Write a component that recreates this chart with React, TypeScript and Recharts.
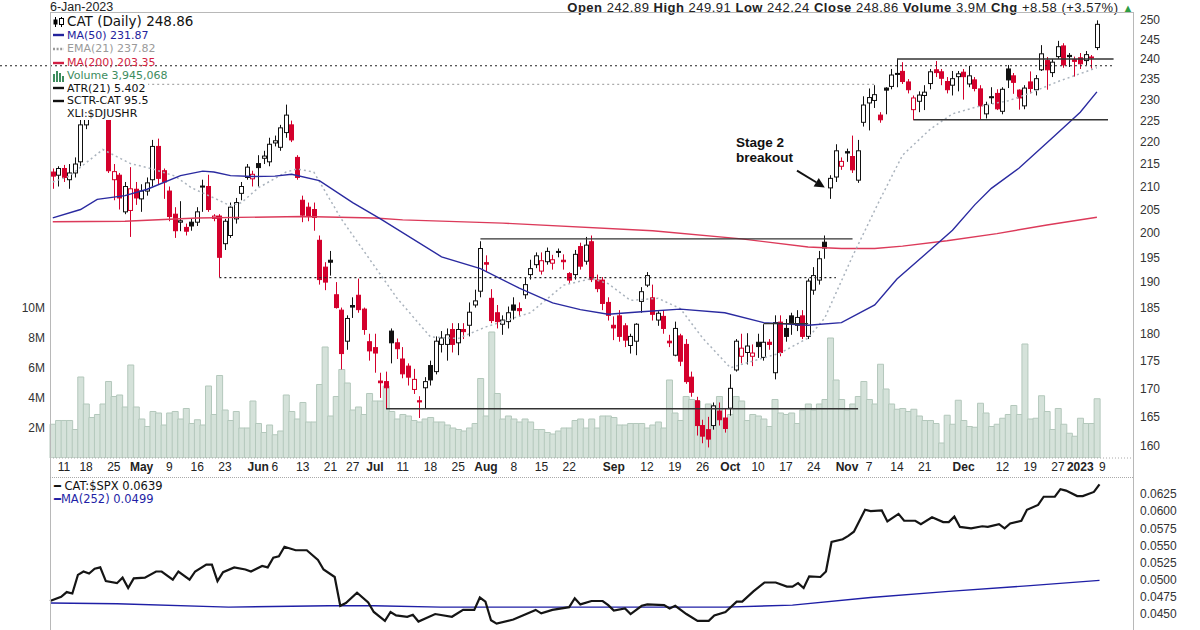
import React from "react";
import { ComposedChart, Bar, Line, XAxis, YAxis, ReferenceLine } from "recharts";

// trading days shown on the chart (Apr 7 2022 .. Jan 6 2023), plus a few empty future slots
const aprDays = [7, 8, 11, 12, 13, 14, 18, 19, 20, 21, 22, 25, 26, 27, 28, 29];
const mayDays = [2, 3, 4, 5, 6, 9, 10, 11, 12, 13, 16, 17, 18, 19, 20, 23, 24, 25, 26, 27, 31];
const junDays = [1, 2, 3, 6, 7, 8, 9, 10, 13, 14, 15, 16, 17, 21, 22, 23, 24, 27, 28, 29, 30];
const julDays = [1, 5, 6, 7, 8, 11, 12, 13, 14, 15, 18, 19, 20, 21, 22, 25, 26, 27, 28, 29];
const augDays = [1, 2, 3, 4, 5, 8, 9, 10, 11, 12, 15, 16, 17, 18, 19, 22, 23, 24, 25, 26, 29, 30, 31];
const sepDays = [1, 2, 6, 7, 8, 9, 12, 13, 14, 15, 16, 19, 20, 21, 22, 23, 26, 27, 28, 29, 30];
const octDays = [3, 4, 5, 6, 7, 10, 11, 12, 13, 14, 17, 18, 19, 20, 21, 24, 25, 26, 27, 28, 31];
const novDays = [1, 2, 3, 4, 7, 8, 9, 10, 11, 14, 15, 16, 17, 18, 21, 22, 23, 25, 28, 29, 30];
const decDays = [1, 2, 5, 6, 7, 8, 9, 12, 13, 14, 15, 16, 19, 20, 21, 22, 23, 27, 28, 29, 30];
const janDays = [3, 4, 5, 6, 9, 10, 11, 12, 13, 17];

const opens = [
  213.2, 212.5, 214, 211.5, 213, 215.5, 224, 227, 231, 230,
  226, 211.5, 212.5, 204.5, 204.8, 209.4, 207.3, 209, 211.5, 219,
  213.5, 209, 204, 202.3, 201.2, 202.3, 202.3, 209.9, 210, 203.1,
  203.6, 197.8, 199.5, 203, 208.5, 212, 211.7, 215.1, 216.3, 215.5,
  219.8, 218.8, 222.2, 224, 216.5, 207, 205.5, 205, 198.5, 193,
  194.4, 187.5, 184.5, 178.6, 185.4, 187.4, 184.7, 178.5, 177.4, 171.3,
  171.2, 180.5, 178.3, 175.3, 174, 169.8, 167.8, 170.1, 174.1, 173,
  178, 178, 180.8, 178.3, 180.8, 181.6, 185.5, 188.2, 193.9, 186.8,
  184, 181.8, 182.3, 185.5, 184.8, 187.5, 191.5, 193.5, 192.2, 194.1,
  193.8, 196.2, 194.4, 191.7, 191.5, 197.2, 194.2, 198.2, 190.4, 190.4,
  186, 181.6, 183.4, 181.5, 177.8, 178.6, 186.2, 189.4, 186.9, 182.6,
  183.3, 178.6, 176, 179.6, 178, 172, 167.8, 163.5, 162.8, 163.5,
  166, 164.8, 166.5, 173.3, 175.8, 176.5, 175.8, 178.4, 175.6, 178.4,
  172.8, 182.2, 181, 183.4, 181.6, 183.4, 179.5, 188.4, 190.4, 198.1,
  209.7, 212.1, 214.5, 217.8, 216.7, 211.4, 224.6, 229.2, 229.8, 226.3,
  232.8, 233.2, 236.4, 236.9, 234.3, 227.6, 229.6, 231, 233.9, 237.3,
  236.8, 234.4, 233.5, 235.6, 236.7, 233.8, 234.8, 232.6, 226.6, 230.7,
  231.5, 227.2, 237.5, 235.8, 232.3, 228.5, 234.3, 232.4, 237.3, 239.6,
  236.6, 240.6, 243.3, 240.9, 239.8, 240.3, 239.6, 240.5, 242.89,
];

const highs = [
  214, 214.5, 214.8, 215, 216.5, 226, 229, 232, 233, 234,
  227, 215, 213, 211, 214.3, 211, 210.5, 212, 220.5, 220.8,
  214, 210, 205.5, 206.8, 202, 203, 205.5, 211.5, 212.6, 204,
  204, 203, 206.5, 207.5, 211, 215, 213.5, 217, 218, 221,
  221.5, 224, 228.8, 225, 217, 208, 206.5, 206.5, 199.5, 194,
  196.3, 190, 185, 183.5, 187, 190.7, 185, 180, 180, 172.8,
  173, 181, 179.1, 177.5, 174.5, 173.5, 168.6, 172, 175, 179.5,
  180.5, 181, 182, 182, 182, 186, 188.5, 198.3, 195.4, 188.6,
  185.5, 183.5, 185.2, 187, 186, 191, 194.5, 196, 196, 197,
  195.5, 196.8, 195.6, 192, 196.5, 198, 199.2, 199.5, 191.5, 191,
  187, 183.3, 184.5, 182, 180, 182, 189, 192, 189.5, 184.3,
  184.5, 179.8, 182.3, 180, 179, 173, 168.5, 164.5, 165, 167.5,
  167.5, 166.5, 172.5, 179, 180, 180.1, 178, 180, 181.8, 179,
  183.5, 183.5, 182.8, 184, 184.5, 184.5, 190.7, 193, 196.3, 199.5,
  212.5, 219.5, 216.5, 218.5, 221.5, 220.5, 230.8, 232.7, 233.5, 227,
  233, 237.5, 240, 239.2, 235, 231, 232, 233.5, 237.5, 239.5,
  237.5, 235.5, 237, 237, 237.5, 238.3, 235.5, 233.5, 229.5, 233,
  232.5, 233, 238.5, 236.5, 232.5, 233.5, 236.9, 236, 243.5, 240.5,
  240, 244.6, 244, 241.5, 240.6, 241.5, 242, 241, 249.91,
];

const lows = [
  209.5, 210, 211, 209.5, 212, 214.5, 223, 226, 227, 226,
  213, 207, 205, 204, 199.2, 206, 204.5, 208, 210, 210.5,
  207.3, 202.5, 199, 200.4, 199.5, 200.5, 201.5, 204.5, 204.5, 202.5,
  191, 196.5, 199, 202, 207, 211.5, 210, 210, 215, 214.5,
  219, 218, 221, 220, 211.5, 202.3, 202.5, 200.5, 189.5, 188.4,
  191.3, 184.8, 173.4, 177, 183, 184, 179.8, 175, 172.8, 168.3,
  166.4, 174.5, 175.3, 171.8, 170.5, 169, 164.8, 166.4, 170.5, 172.5,
  176.5, 175, 176.5, 176, 179, 179.5, 185, 187, 192, 182,
  181, 179.8, 181, 182.7, 183.4, 186.7, 190.5, 192.8, 191.5, 193.5,
  192.5, 195, 192.5, 189.7, 190.5, 192.5, 193.5, 190, 188, 184.5,
  182.5, 178.8, 178.5, 177.5, 176.3, 176, 184, 189, 182.5, 181.5,
  180, 177.5, 175.8, 174, 170.8, 168.5, 161.8, 160.5, 159.8, 162.8,
  163.5, 162.3, 165.2, 173, 174.5, 174.3, 174, 175.5, 175, 177,
  171.6, 175.8, 178.5, 179.8, 180.5, 179, 179, 187.5, 189.5, 194.7,
  207.3, 211, 213.7, 215.5, 213, 210.8, 223.6, 222.7, 228, 224.5,
  226.5, 232.5, 233, 233.8, 231.5, 225.1, 227, 227.5, 232.5, 235.5,
  233.5, 231.5, 231, 232, 230, 233, 232, 225.3, 225.5, 229,
  227.5, 226.5, 232.8, 231.4, 227.6, 227.7, 231.5, 231, 237, 232.4,
  235.5, 240, 237.8, 238, 235.6, 237.5, 238.5, 237.6, 242.24,
];

const closes = [
  212.3, 214, 212, 213, 215, 224, 227, 231, 229.5, 227,
  213.5, 213.3, 207.5, 210, 209.5, 207.5, 209, 210.8, 219, 211.8,
  211, 203.5, 200.5, 202.6, 200.4, 201.5, 204.5, 210.1, 205, 203.6,
  195, 202.5, 205.5, 206.5, 210, 214.3, 212.7, 214.2, 216.8, 219.5,
  220.3, 223.3, 226.3, 220.5, 212, 203.8, 203.5, 203.3, 190.5, 190,
  194, 185, 176.3, 182.9, 185.1, 184.6, 180.8, 176.8, 176.4, 171,
  170.1, 178.3, 177.2, 172.6, 172, 171.6, 167.6, 171.2, 171.5, 178.6,
  179.2, 179.8, 178, 180.8, 180.4, 184.1, 186.3, 196.8, 193.6, 182.5,
  182.3, 182.6, 184, 184.5, 184.4, 189.5, 192.7, 195.3, 194.3, 196.2,
  194.5, 196, 194.1, 190.4, 195.6, 193.2, 197.5, 190.5, 188.7, 185.8,
  183.5, 181.1, 179.5, 178.8, 179.5, 181.8, 188.1, 191.3, 183.7, 183.9,
  181, 178.3, 181, 174.9, 171.2, 169.3, 163.5, 161.7, 161.2, 166.9,
  164.5, 163, 170, 178.6, 177.3, 177.7, 176.4, 177.6, 178.4, 178,
  182.1, 176.5, 179.5, 182.1, 183.1, 179.5, 190.2, 191.3, 194.7, 196.9,
  211.8, 218, 215.6, 217.5, 213.7, 218, 228.7, 230.5, 231.2, 225.2,
  232.3, 236, 236.2, 234.4, 232.4, 230.4, 231.1, 231.8, 236.8, 236.6,
  235.2, 232.4, 235.1, 236.3, 235.6, 235.8, 232.7, 228.5, 228.8, 230.5,
  227.8, 232.5, 234.8, 234.2, 230.4, 232.8, 232.7, 235.1, 241.3, 237.3,
  239.2, 243.1, 238.5, 240.6, 239.4, 238.8, 241.1, 240.28, 248.86,
];

// volume, millions of shares
const volumes = [
  2.25, 2.5, 2.5, 2.5, 1.9, 5.4, 3.6, 2.7, 2.9, 3.6,
  5.1, 4.1, 4.2, 3.4, 6.2, 3.4, 2.6, 2.1, 3.1, 3.0,
  2.2, 3.0, 3.1, 2.6, 3.3, 2.3, 2.55, 2.2, 4.8, 2.9,
  5.5, 3.2, 2.5, 3.1, 2.0, 2.0, 3.8, 2.3, 1.7, 2.2,
  1.55, 1.8, 4.2, 3.1, 2.6, 3.7, 2.4, 2.4, 4.9, 7.4,
  2.8, 4.1, 5.9, 5.0, 3.2, 3.4, 2.9, 4.3, 3.8, 3.8,
  4.8, 3.1, 2.6, 2.9, 2.8, 2.5, 2.4, 2.6, 2.7, 2.4,
  2.4, 2.2, 2.0, 1.9, 1.8, 2.0, 2.3, 5.3, 2.8, 8.4,
  4.3, 2.6, 2.8, 2.6, 2.4, 2.6, 2.4, 1.9, 1.9, 1.7,
  1.6, 1.8, 2.0, 2.0, 2.5, 2.6, 2.0, 2.6, 2.0, 2.8,
  2.8, 2.7, 2.2, 2.2, 2.3, 2.3, 2.3, 2.0, 2.2, 2.4,
  2.0, 5.2, 3.0, 2.5, 4.1, 3.9, 3.8, 3.3, 3.6, 3.5,
  4.1, 2.6, 2.9, 4.1, 3.8, 2.5, 2.9, 2.8, 2.6, 2.1,
  3.9, 3.0, 2.9, 3.0, 2.3, 3.2, 3.6, 3.2, 3.6, 3.9,
  8.0, 5.2, 3.9, 3.2, 3.6, 4.1, 5.1, 3.9, 3.6, 6.25,
  4.6, 3.6, 3.25, 3.3, 3.1, 3.25, 2.8, 2.5, 2.5, 2.3,
  1.0, 2.85, 2.25, 3.85, 2.5, 2.1, 2.05, 3.65, 3.0, 2.1,
  2.25, 2.65, 2.9, 3.5, 2.9, 7.6, 2.6, 2.65, 4.15, 3.1,
  1.9, 3.3, 2.25, 1.65, 1.45, 2.65, 2.3, 2.3, 3.95,
];

// overlays at [day index, value]
const ma50Pts = [
  [0, 203.2], [5, 205], [8, 207.2], [13, 208], [17, 209.4], [23, 212.4], [27, 213.4], [29, 213.2],
  [32, 212.4], [36, 212.2], [40, 212.3], [43, 212.7], [48, 211.3], [54, 206.5], [59, 203], [70, 195.1],
  [77, 192.7], [84, 188.8], [90, 185.9], [95, 184.6], [100, 183.7], [106, 184.2], [113, 184.7], [121, 184],
  [128, 182.1], [136, 181.6], [142, 182.1], [148, 185.5], [152, 190.6], [157, 195.5], [162, 200.6],
  [166, 206], [169, 209.6], [174, 214.1], [180, 221], [185, 227], [188, 231.87],
];
const ema21Pts = [
  [0, 211], [3, 212.3], [9, 218.3], [14, 215.1], [18, 213.9], [22, 212.3], [25, 209.7], [29, 207.5],
  [32, 205.8], [34, 206.5], [37, 209.7], [42, 213.2], [44, 213.9], [47, 213.2], [52, 202.9], [62, 186.8],
  [68, 179.4], [73, 179.1], [78, 181.3], [86, 184], [92, 189.4], [97, 190.7], [100, 189.7], [104, 186.4],
  [109, 186.8], [113, 184.8], [117, 179.2], [122, 173.7], [126, 174.9], [131, 176.4], [136, 179.2],
  [139, 183], [144, 195.2], [149, 207.3], [153, 217], [158, 223], [162, 226.6], [167, 228.5],
  [172, 229.7], [176, 231.6], [181, 234.4], [188, 237.82],
];
const ma200Pts = [
  [0, 202.4], [13, 202.5], [26, 203.2], [45, 203.5], [58, 203.2], [63, 202.8], [81, 202.1], [108, 200.5],
  [124, 198.8], [136, 197.1], [142, 196.8], [148, 196.8], [153, 197.3], [161, 198.4], [170, 199.9],
  [179, 201.7], [188, 203.35],
];
const ratioPts = [
  [0, 0.0469], [2, 0.0475], [3, 0.0482], [4, 0.048], [5, 0.0507], [6, 0.0512], [7, 0.0509], [8, 0.0516],
  [9, 0.0518], [10, 0.0498], [12, 0.0495], [13, 0.0503], [14, 0.0488], [15, 0.0502], [17, 0.0503],
  [19, 0.0512], [20, 0.0512], [22, 0.05], [23, 0.0512], [25, 0.05], [26, 0.0512], [28, 0.0522],
  [29, 0.0522], [30, 0.0498], [31, 0.0511], [33, 0.0518], [35, 0.0515], [36, 0.0512], [38, 0.052],
  [39, 0.0518], [40, 0.0532], [41, 0.0534], [42, 0.0548], [44, 0.0543], [46, 0.0543], [48, 0.0529],
  [49, 0.0515], [51, 0.0504], [52, 0.0462], [53, 0.0466], [55, 0.0481], [57, 0.0467], [58, 0.0453],
  [60, 0.044], [61, 0.0453], [62, 0.0448], [64, 0.0446], [65, 0.0449], [66, 0.0439], [69, 0.045],
  [72, 0.0446], [74, 0.0456], [76, 0.0456], [77, 0.0474], [78, 0.0468], [79, 0.0441], [80, 0.0436],
  [83, 0.0442], [85, 0.0449], [87, 0.0456], [88, 0.0451], [90, 0.0456], [93, 0.046], [94, 0.0473],
  [95, 0.0464], [97, 0.0469], [99, 0.0469], [100, 0.0463], [101, 0.0455], [103, 0.0458], [104, 0.045],
  [106, 0.0462], [107, 0.0464], [110, 0.0463], [111, 0.0458], [112, 0.0462], [114, 0.045], [116, 0.044],
  [118, 0.044], [119, 0.0448], [121, 0.0453], [123, 0.0468], [124, 0.0468], [126, 0.0483], [128, 0.0496],
  [130, 0.0496], [132, 0.049], [133, 0.049], [134, 0.0495], [135, 0.0488], [136, 0.0505], [138, 0.0504],
  [139, 0.0512], [140, 0.0555], [142, 0.0559], [143, 0.0564], [144, 0.057], [146, 0.0602], [147, 0.06],
  [149, 0.0601], [150, 0.0585], [152, 0.0596], [153, 0.0586], [155, 0.0586], [156, 0.0581], [158, 0.0591],
  [160, 0.0584], [161, 0.0584], [162, 0.0592], [163, 0.0577], [165, 0.0575], [167, 0.0578], [168, 0.0577],
  [170, 0.0581], [171, 0.0575], [172, 0.0582], [174, 0.0586], [175, 0.0602], [177, 0.0609], [178, 0.0621],
  [180, 0.0621], [181, 0.0632], [182, 0.063], [184, 0.0622], [185, 0.0622], [187, 0.0628], [188, 0.0639],
];
const ma252Pts = [
  [0, 0.0466], [12, 0.0465], [32, 0.046], [50, 0.0462], [58, 0.0462], [70, 0.046], [100, 0.046],
  [121, 0.046], [133, 0.0463], [147, 0.0474], [161, 0.0483], [175, 0.0491], [188, 0.0499],
];

const tickIdx = [2, 6, 11, 16, 21, 26, 31, 37, 40, 45, 50, 54, 58, 63, 68, 73, 78, 83, 88, 93, 101, 107, 112,
  117, 122, 127, 132, 137, 143, 147, 152, 157, 164, 171, 176, 181, 185, 189];
const tickText = ["11", "18", "25", "May", "9", "16", "23", "Jun", "6", "13", "21", "27", "Jul", "11", "18",
  "25", "Aug", "8", "15", "22", "Sep", "12", "19", "26", "Oct", "10", "17", "24", "Nov", "7", "14", "21",
  "Dec", "12", "19", "27", "2023", "9"];
const priceTicks = [160, 165, 170, 175, 180, 185, 190, 195, 200, 205, 210, 215, 220, 225, 230, 235, 240, 245, 250];
const volTicks = [2, 4, 6, 8, 10];
const ratioTicks = [0.045, 0.0475, 0.05, 0.0525, 0.055, 0.0575, 0.06, 0.0625];

const monthDays = [aprDays, mayDays, junDays, julDays, augDays, sepDays, octDays, novDays, decDays, janDays];
const dayCount = monthDays.reduce((s, m) => s + m.length, 0);

type Row = { [k: string]: any };
const rows: Row[] = Array.from({ length: dayCount }, (_, i) => {
  if (i >= closes.length) return { i };
  return {
    i,
    o: opens[i],
    h: highs[i],
    l: lows[i],
    c: closes[i],
    pc: i > 0 ? closes[i - 1] : opens[0],
    range: [lows[i], highs[i]],
    vol: volumes[i],
  };
});
const put = (pts: number[][], key: string) => pts.forEach(([k, v]) => { rows[k][key] = v; });
put(ma50Pts, "ma50");
put(ema21Pts, "ema21");
put(ma200Pts, "ma200");
put(ratioPts, "ratio");
put(ma252Pts, "ma252");

const FONT = "'Liberation Sans', Arial, sans-serif";
const LFONT = "'DejaVu Sans', Verdana, sans-serif";
const RED = "#d4002c";

function Candle(props: any) {
  const { x, y, width, height, payload } = props;
  if (!payload || payload.o == null) return null;
  const top = Math.min(y, y + height);
  const h = Math.abs(height);
  const lh = Math.log(payload.h);
  const span = lh - Math.log(payload.l) || 1;
  const yAt = (v: number) => top + (h * (lh - Math.log(v))) / span;
  const cx = Math.round(x + width / 2) + 0.5;
  const up = payload.c >= payload.o;
  const col = payload.c < payload.pc ? RED : "#111";
  const yTop = yAt(Math.max(payload.o, payload.c));
  const yBot = yAt(Math.min(payload.o, payload.c));
  return (
    <g>
      <line x1={cx} x2={cx} y1={top} y2={top + h} stroke={col} strokeWidth={1} />
      <rect x={cx - 2} y={yTop} width={4} height={Math.max(yBot - yTop, 1)} fill={up ? "#fff" : col} stroke={col} strokeWidth={1} />
    </g>
  );
}

function DateTick(props: any) {
  const { x, y, payload } = props;
  const k = tickIdx.indexOf(payload.value);
  if (k < 0) return null;
  const t = tickText[k];
  const bold = /^[A-Z]/.test(t) || t.length === 4;
  return (
    <text x={x} y={y} dy={9} textAnchor="middle" fontSize={12} fontWeight={bold ? 700 : 400} fill="#222" fontFamily={FONT}>
      {t}
    </text>
  );
}

function LongDotted(p: any) {
  return <line x1={0} y1={p.y1} x2={p.x2} y2={p.y2} stroke="#222" strokeWidth={1.2} strokeDasharray="2 3" />;
}

function Arrow(p: any) {
  const { x1, y1, x2, y2 } = p;
  const a = Math.atan2(y2 - y1, x2 - x1);
  const L = 10, W = 5;
  const bx = x2 - L * Math.cos(a), by = y2 - L * Math.sin(a);
  const pts = `${x2},${y2} ${bx + W * Math.sin(a)},${by - W * Math.cos(a)} ${bx - W * Math.sin(a)},${by + W * Math.cos(a)}`;
  return (
    <g>
      <line x1={x1} y1={y1} x2={bx} y2={by} stroke="#111" strokeWidth={2} />
      <polygon points={pts} fill="#111" />
    </g>
  );
}

function Icon({ kind, color }: { kind: string; color: string }) {
  if (kind === "candle")
    return (
      <svg width={13} height={12}>
        <line x1={3.5} x2={3.5} y1={1} y2={11} stroke="#000" />
        <rect x={1.5} y={3.5} width={4} height={5} fill="#000" />
        <line x1={9.5} x2={9.5} y1={1} y2={11} stroke="#000" />
        <rect x={7.5} y={2.5} width={4} height={6} fill="#fff" stroke="#000" />
      </svg>
    );
  if (kind === "bars")
    return (
      <svg width={13} height={12}>
        <rect x={1} y={4} width={2} height={8} fill={color} />
        <rect x={4} y={1} width={2} height={11} fill={color} />
        <rect x={7} y={3} width={2} height={9} fill={color} />
        <rect x={10} y={6} width={2} height={6} fill={color} />
      </svg>
    );
  if (kind === "none") return <span style={{ display: "inline-block", width: 13 }} />;
  return (
    <svg width={13} height={12}>
      <line x1={1} x2={12} y1={6} y2={6} stroke={color} strokeWidth={2.4} strokeDasharray={kind === "dots" ? "2 1.6" : undefined} />
    </svg>
  );
}

function LegendRow({ top, kind, color, text, size = 11, bg = false }: any) {
  return (
    <div
      style={{
        position: "absolute", left: 52, top, height: 13, display: "flex", alignItems: "center",
        background: bg ? "#fff" : "transparent", paddingRight: 2, whiteSpace: "nowrap",
      }}
    >
      <Icon kind={kind} color={color} />
      <span style={{ marginLeft: 2, color, fontSize: size, fontFamily: LFONT, lineHeight: "13px" }}>{text}</span>
    </div>
  );
}

export default function App() {
  return (
    <div style={{ position: "relative", width: 1200, height: 630, overflow: "hidden", background: "#fff", fontFamily: FONT }}>
      <style>{"body{margin:0}"}</style>

      <div style={{ position: "absolute", left: 50, top: 0, fontSize: 12.5, lineHeight: "14px", color: "#222" }}>6-Jan-2023</div>
      <div style={{ position: "absolute", right: 66, top: 0, fontSize: 13, lineHeight: "15px", letterSpacing: "0.5px", color: "#222", whiteSpace: "nowrap" }}>
        <b>Open</b> 242.89 <b>High</b> 249.91 <b>Low</b> 242.24 <b>Close</b> 248.86 <b>Volume</b> 3.9M{" "}
        <b>Chg</b> +8.58 (+3.57%) <span style={{ color: "#2f9e44", fontSize: 11 }}>▲</span>
      </div>

      <div style={{ position: "absolute", left: 0, top: 0 }}>
        <ComposedChart width={1200} height={480} data={rows} margin={{ top: 12, right: 0, bottom: 2, left: 0 }} barCategoryGap={0} barGap={0}>
          <XAxis
            xAxisId="c" dataKey="i" type="category" ticks={tickIdx} interval={0} tick={<DateTick />}
            tickLine={false} tickSize={0} tickMargin={4} height={20} axisLine={{ stroke: "#aaa", strokeDasharray: "1 2" }}
          />
          <XAxis xAxisId="v" dataKey="i" type="category" hide />
          <YAxis
            yAxisId="vol" orientation="left" width={50} domain={[0, 29.73]} ticks={volTicks} allowDataOverflow interval={0}
            tickFormatter={(v: number) => `${v}M`} axisLine={false} tickLine={false} tickSize={2} tickMargin={3}
            tick={{ fontSize: 12, fill: "#333", fontFamily: FONT }}
          />
          <YAxis
            yAxisId="px" orientation="right" width={67} scale="log" domain={[158.04, 252.1]} ticks={priceTicks}
            allowDataOverflow interval={0} axisLine={false} tickLine={false} tickSize={4} tickMargin={3}
            tick={{ fontSize: 12, fill: "#333", fontFamily: FONT }}
          />
          <Bar xAxisId="v" yAxisId="vol" dataKey="vol" fill="#d5e2da" stroke="#b4c8bc" strokeWidth={1} isAnimationActive={false} />
          <Line xAxisId="c" yAxisId="px" dataKey="ma200" stroke="#dc3a5a" strokeWidth={1.4} dot={false} connectNulls isAnimationActive={false} />
          <Line xAxisId="c" yAxisId="px" dataKey="ema21" stroke="#aab3bd" strokeWidth={1.5} strokeDasharray="2 3" dot={false} connectNulls isAnimationActive={false} />
          <Line xAxisId="c" yAxisId="px" dataKey="ma50" stroke="#2a2aa0" strokeWidth={1.4} dot={false} connectNulls isAnimationActive={false} />

          <ReferenceLine xAxisId="c" yAxisId="px" ifOverflow="visible" segment={[{ x: 0, y: 238.3 }, { x: 191, y: 238.3 }]} shape={LongDotted} />
          <ReferenceLine xAxisId="c" yAxisId="px" ifOverflow="visible" segment={[{ x: 8, y: 233.7 }, { x: 148, y: 233.7 }]} stroke="#aaa" strokeWidth={1.2} strokeDasharray="2 3" />
          <ReferenceLine xAxisId="c" yAxisId="px" ifOverflow="visible" segment={[{ x: 30, y: 190.9 }, { x: 141, y: 190.9 }]} stroke="#222" strokeWidth={1.2} strokeDasharray="2 3" />
          <ReferenceLine xAxisId="c" yAxisId="px" ifOverflow="visible" segment={[{ x: 77, y: 198.8 }, { x: 144, y: 198.8 }]} stroke="#333" strokeWidth={1.3} />
          <ReferenceLine xAxisId="c" yAxisId="px" ifOverflow="visible" segment={[{ x: 60, y: 166.4 }, { x: 145, y: 166.4 }]} stroke="#333" strokeWidth={1.3} />
          <ReferenceLine xAxisId="c" yAxisId="px" ifOverflow="visible" segment={[{ x: 128, y: 181.9 }, { x: 136, y: 181.9 }]} stroke="#333" strokeWidth={1.3} />
          <ReferenceLine xAxisId="c" yAxisId="px" ifOverflow="visible" segment={[{ x: 152, y: 240 }, { x: 191, y: 240 }]} stroke="#333" strokeWidth={1.3} />
          <ReferenceLine xAxisId="c" yAxisId="px" ifOverflow="visible" segment={[{ x: 155, y: 225.2 }, { x: 190, y: 225.2 }]} stroke="#333" strokeWidth={1.3} />
          <ReferenceLine xAxisId="c" yAxisId="px" ifOverflow="visible" segment={[{ x: 134, y: 213.5 }, { x: 139, y: 209.8 }]} shape={Arrow} />

          <Bar xAxisId="c" yAxisId="px" dataKey="range" barSize={5} shape={Candle} isAnimationActive={false} />
        </ComposedChart>
      </div>

      <div style={{ position: "absolute", left: 0, top: 477 }}>
        <ComposedChart width={1200} height={153} data={rows} margin={{ top: 0, right: 0, bottom: 0, left: 50 }}>
          <XAxis dataKey="i" type="category" hide />
          <YAxis
            orientation="right" width={67} domain={[0.04267, 0.06498]} ticks={ratioTicks} allowDataOverflow interval={0}
            tickFormatter={(v: number) => v.toFixed(4)} axisLine={false} tickLine={false} tickSize={4} tickMargin={3}
            tick={{ fontSize: 12, fill: "#333", fontFamily: FONT }}
          />
          <Line dataKey="ma252" stroke="#1f1fa6" strokeWidth={1.4} dot={false} connectNulls isAnimationActive={false} />
          <Line dataKey="ratio" stroke="#151515" strokeWidth={2.2} dot={false} connectNulls isAnimationActive={false} />
        </ComposedChart>
      </div>

      {/* panel frames */}
      <div style={{ position: "absolute", left: 50, top: 12, width: 1082, height: 640, borderLeft: "1px solid #b8b8b8", borderRight: "1px solid #b8b8b8", borderTop: "1px solid #b8b8b8", pointerEvents: "none" }} />
      <div style={{ position: "absolute", left: 50, top: 477, width: 1083, borderTop: "1px dotted #aaa" }} />

      {/* legend, main panel */}
      <LegendRow top={15} kind="candle" color="#111" text="CAT (Daily) 248.86" size={13.5} />
      <LegendRow top={28.5} kind="line" color="#23239c" text="MA(50) 231.87" />
      <LegendRow top={42} kind="dots" color="#9a9a9a" text="EMA(21) 237.82" />
      <LegendRow top={56} kind="line" color="#d21f43" text="MA(200) 203.35" />
      <LegendRow top={69} kind="bars" color="#3d8c5e" text="Volume 3,945,068" bg />
      <LegendRow top={81.5} kind="line" color="#111" text="ATR(21) 5.402" bg />
      <LegendRow top={94} kind="line" color="#111" text="SCTR-CAT 95.5" bg />
      <LegendRow top={106.5} kind="none" color="#111" text="XLI:$DJUSHR" bg />

      <div style={{ position: "absolute", left: 736, top: 135, fontSize: 13.5, fontWeight: 700, lineHeight: "15px", color: "#111" }}>
        Stage 2<br />breakout
      </div>

      {/* legend, ratio panel */}
      <div style={{ position: "absolute", left: 54, top: 479, fontSize: 11.5, fontFamily: LFONT, color: "#111", whiteSpace: "nowrap" }}>
        <span style={{ fontWeight: 700 }}>━</span> CAT:$SPX 0.0639
      </div>
      <div style={{ position: "absolute", left: 54, top: 492, fontSize: 11.5, fontFamily: LFONT, color: "#1f1fa6", whiteSpace: "nowrap" }}>
        <span style={{ fontWeight: 700 }}>━</span>MA(252) 0.0499
      </div>
    </div>
  );
}
